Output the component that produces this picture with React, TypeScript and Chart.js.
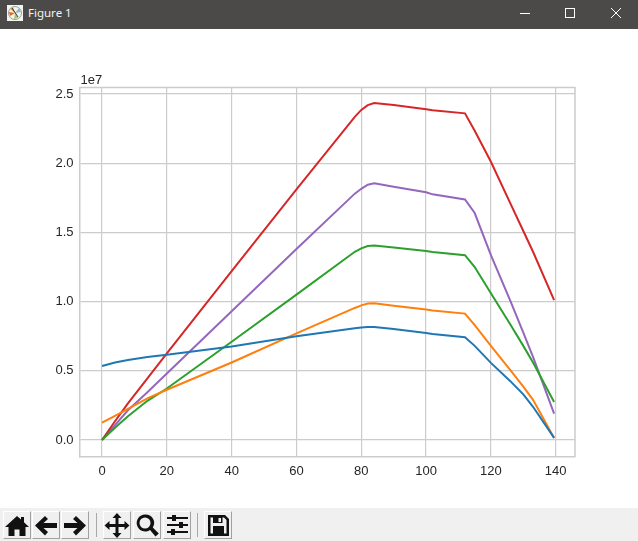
import { useEffect, useRef } from "react"
import { Chart, registerables } from "chart.js"

Chart.register(...registerables)

const xs = [0, 4, 8, 14, 20, 40, 60, 78, 80, 82, 84, 90, 100, 102, 112, 115, 120, 126, 130, 133, 139.5]

// values are in units of 1e7
const blue = [0.535, 0.56, 0.578, 0.6, 0.615, 0.675, 0.75, 0.807, 0.812, 0.817, 0.817, 0.802, 0.773, 0.765, 0.742, 0.68, 0.557, 0.425, 0.33, 0.24, 0.015]
const orange = [0.125, 0.175, 0.225, 0.3, 0.363, 0.56, 0.77, 0.954, 0.973, 0.986, 0.988, 0.97, 0.942, 0.935, 0.913, 0.83, 0.68, 0.505, 0.385, 0.29, 0.015]
const green = [0, 0.088, 0.172, 0.283, 0.372, 0.71, 1.05, 1.36, 1.385, 1.402, 1.405, 1.39, 1.365, 1.358, 1.335, 1.25, 1.06, 0.835, 0.68, 0.56, 0.275]
const red = [0, 0.135, 0.265, 0.445, 0.625, 1.22, 1.81, 2.335, 2.385, 2.42, 2.435, 2.42, 2.39, 2.382, 2.36, 2.235, 2.01, 1.71, 1.51, 1.36, 1.01]
const purple = [0, 0.108, 0.215, 0.345, 0.48, 0.93, 1.38, 1.78, 1.815, 1.845, 1.855, 1.83, 1.79, 1.775, 1.738, 1.64, 1.335, 1.005, 0.775, 0.6, 0.19]

const seriesList = [
  { values: blue, color: "#1f77b4" },
  { values: orange, color: "#ff7f0e" },
  { values: green, color: "#2ca02c" },
  { values: red, color: "#d62728" },
  { values: purple, color: "#9467bd" },
]

const FONT = "'Liberation Sans', Arial, sans-serif"
const TEXT = "#262626"
const GRID = "#cccccc"

// the "1e7" offset text above the y axis
const offsetText = {
  id: "offsetText",
  afterDraw(chart: Chart) {
    const ctx = chart.ctx
    ctx.save()
    ctx.font = `13px ${FONT}`
    ctx.fillStyle = TEXT
    ctx.textAlign = "left"
    ctx.textBaseline = "alphabetic"
    ctx.fillText("1e7", chart.chartArea.left + 1, chart.chartArea.top - 4)
    ctx.restore()
  },
}

function Btn({ left, d, width = 28 }: { left: number; d: string; width?: number }) {
  return (
    <div
      style={{
        position: "absolute",
        left,
        top: 511,
        width,
        height: 28,
        boxSizing: "border-box",
        background: "#f0f0f0",
        borderTop: "1px solid #fff",
        borderLeft: "1px solid #fff",
        borderRight: "1px solid #a0a0a0",
        borderBottom: "1px solid #a0a0a0",
      }}
    >
      <svg width={width - 2} height={26} viewBox="0 0 26 26" style={{ display: "block" }}>
        <path d={d} fill="#111" fillRule="evenodd" />
      </svg>
    </div>
  )
}

const homeIcon = "M13 4 L17 7.5 V5 H20 V10.2 L25 15 H21.5 V24 H15.5 V17.5 H10.5 V24 H4.5 V15 H1 Z"
const backIcon = "M12 4 L15 7 L10.5 11 H24 V16 H10.5 L15 20 L12 23.5 L2 13.5 Z"
const forwardIcon = "M14 4 L11 7 L15.5 11 H2 V16 H15.5 L11 20 L14 23.5 L24 13.5 Z"
const moveIcon =
  "M13 1 L17.5 6 H14.5 V12 H20.5 V9 L25.5 13.5 L20.5 18 V15 H14.5 V21 H17.5 L13 26 L8.5 21 H11.5 V15 H5.5 V18 L0.5 13.5 L5.5 9 V12 H11.5 V6 H8.5 Z"
const zoomIcon =
  "M11 2.5 A8.5 8.5 0 1 0 16 18 L21.5 24.5 L24.8 21.5 L18.8 15.5 A8.5 8.5 0 0 0 11 2.5 Z M11 5.5 A5.5 5.5 0 1 1 11 16.5 A5.5 5.5 0 1 1 11 5.5 Z"
const sliderIcon =
  "M3 5 H8 V3 H12 V5 H24 V7 H12 V9 H8 V7 H3 Z M3 12 H15 V10 H19 V12 H24 V14 H19 V16 H15 V14 H3 Z M3 19 H7 V17 H11 V19 H24 V21 H11 V23 H7 V21 H3 Z"
const saveIcon =
  "M3 3 H20 L24 7 V24 H3 Z M5.5 5.5 V21.5 H21.5 V8 L19 5.5 H17.5 V11 H8 V5.5 Z M13.5 6 H16 V10 H13.5 Z M8 14 H19 V21.5 H8 Z"

export default function App() {
  const chartRef = useRef<HTMLCanvasElement>(null)
  const chartInstance = useRef<Chart | null>(null)

  useEffect(() => {
    document.body.style.margin = "0"
    if (chartRef.current) {
      chartInstance.current = new Chart(chartRef.current, {
        type: "line",
        data: {
          datasets: seriesList.map((s) => ({
            data: s.values.map((v, i) => ({ x: xs[i], y: v })),
            borderColor: s.color,
            borderWidth: 2,
            pointRadius: 0,
            tension: 0,
            clip: false,
          })),
        },
        options: {
          animation: false,
          responsive: false,
          layout: { padding: { top: 58.5, right: 63, bottom: 21, left: 0 } },
          plugins: { legend: { display: false }, tooltip: { enabled: false } },
          scales: {
            x: {
              type: "linear",
              min: -6.95,
              max: 145.95,
              afterFit: (scale) => {
                scale.height = 30
              },
              border: { color: GRID, width: 1.5 },
              grid: { color: GRID, lineWidth: 1.2, drawTicks: false },
              ticks: {
                stepSize: 20,
                includeBounds: false,
                maxRotation: 0,
                padding: 7,
                color: TEXT,
                font: { family: FONT, size: 13 },
              },
            },
            y: {
              min: -0.123,
              max: 2.547,
              afterFit: (scale) => {
                scale.width = 79.5
              },
              border: { color: GRID, width: 1.5 },
              grid: { color: GRID, lineWidth: 1.2, drawTicks: false },
              ticks: {
                stepSize: 0.5,
                includeBounds: false,
                padding: 6,
                color: TEXT,
                font: { family: FONT, size: 13 },
                callback: (v) => Number(v).toFixed(1),
              },
            },
          },
        },
        plugins: [
          offsetText,
          {
            // top and right spines
            id: "spines",
            beforeDatasetsDraw(chart: Chart) {
              const { ctx, chartArea: a } = chart
              ctx.save()
              ctx.strokeStyle = GRID
              ctx.lineWidth = 1.5
              ctx.beginPath()
              ctx.moveTo(a.left, a.top)
              ctx.lineTo(a.right, a.top)
              ctx.lineTo(a.right, a.bottom)
              ctx.stroke()
              ctx.restore()
            },
          },
        ],
      })
    }

    return () => {
      if (chartInstance.current) {
        chartInstance.current.destroy()
      }
    }
  }, [])

  return (
    <div style={{ position: "relative", width: 638, height: 541, overflow: "hidden", background: "#fff", fontFamily: FONT }}>
      <div
        style={{
          position: "absolute",
          left: 0,
          top: 29,
          width: 638,
          height: 479,
          overflow: "hidden",
        }}
      >
        <canvas ref={chartRef} width={638} height={479} style={{ display: "block" }} />
      </div>

      {/* window title bar */}
      <div style={{ position: "absolute", left: 0, top: 0, width: 638, height: 29, background: "#4b4a48" }}>
        <svg width={16} height={16} viewBox="0 0 16 16" style={{ position: "absolute", left: 7, top: 5 }}>
          <rect width={16} height={16} fill="#f4f4f0" />
          <circle cx={8} cy={8} r={6.5} fill="none" stroke="#888" strokeWidth={0.8} />
          <path d="M8 8 L3 4 L6 2 Z" fill="#e8a33c" />
          <path d="M8 8 L3 11 L2 7 Z" fill="#e3672b" />
          <path d="M8 8 L12 3 L14 7 Z" fill="#8bb8d0" />
          <path d="M8 8 L11 13 L7 14 Z" fill="#a9c46c" />
          <path d="M5 3 L11 12" stroke="#333" strokeWidth={1} />
        </svg>
        <span style={{ position: "absolute", left: 28, top: 5, fontSize: 11.5, color: "#f2f2f2", fontFamily: "'Noto Sans', sans-serif" }}>
          Figure 1
        </span>
        <svg width={638} height={29} style={{ position: "absolute", left: 0, top: 0 }}>
          <path d="M520 13.5 H530" stroke="#fff" strokeWidth={1} />
          <rect x={565.5} y={8.5} width={9} height={9} fill="none" stroke="#fff" strokeWidth={1} />
          <path d="M611 8 L621 18 M621 8 L611 18" stroke="#fff" strokeWidth={1} />
        </svg>
      </div>

      {/* matplotlib toolbar */}
      <div style={{ position: "absolute", left: 0, top: 508, width: 638, height: 33, background: "#f0f0f0" }} />
      <Btn left={3} d={homeIcon} />
      <Btn left={32} d={backIcon} />
      <Btn left={61} d={forwardIcon} />
      <div style={{ position: "absolute", left: 96, top: 513, width: 1, height: 24, background: "#a8a8a8" }} />
      <Btn left={103} d={moveIcon} />
      <Btn left={133} d={zoomIcon} />
      <Btn left={163} d={sliderIcon} />
      <div style={{ position: "absolute", left: 197, top: 513, width: 1, height: 24, background: "#a8a8a8" }} />
      <Btn left={204} d={saveIcon} />
    </div>
  )
}
